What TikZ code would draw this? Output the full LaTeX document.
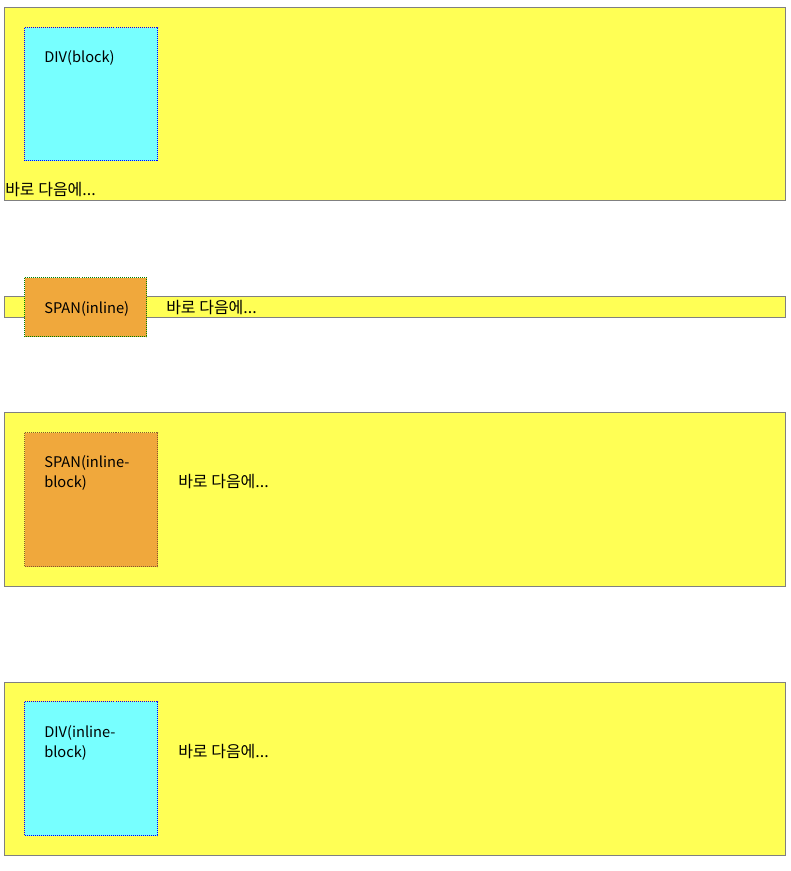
\documentclass[tikz,border=0pt]{standalone}
\usepackage{fontspec}
\setmainfont{Noto Sans CJK KR}
\definecolor{bgyellow}{HTML}{FFFF55}
\definecolor{boxcyan}{HTML}{77FFFF}
\definecolor{boxorange}{HTML}{F0A83C}
\definecolor{edgegray}{HTML}{808080}
\begin{document}
\begin{tikzpicture}[x=0.75pt,y=-0.75pt,
    outer/.style={fill=bgyellow,draw=edgegray,line width=0.75pt},
    divbox/.style={fill=boxcyan,draw=blue,line width=0.75pt,dash pattern=on 0.75pt off 0.75pt},
    spanbox/.style={fill=boxorange,draw=#1,line width=0.75pt,dash pattern=on 0.75pt off 0.75pt},
    lbl/.style={inner sep=0pt,anchor=base west,align=left,font=\fontsize{11}{15}\selectfont},
    kor/.style={lbl,font=\fontsize{12}{15}\selectfont}]
  \useasboundingbox (0,0) rectangle (791,871);
  % outer yellow containers
  \draw[outer] (4.5,7.5) rectangle (785.5,200.5);
  \draw[outer] (4.5,296.5) rectangle (785.5,317.5);
  \draw[outer] (4.5,412.5) rectangle (785.5,586.5);
  \draw[outer] (4.5,682.5) rectangle (785.5,855.5);
  % inner boxes
  \draw[divbox] (24.5,27.5) rectangle (157.5,160.5);
  \draw[spanbox=green!50!black] (24.5,277.5) rectangle (146.5,336.5);
  \draw[spanbox=brown!70!black] (24.5,432.5) rectangle (157.5,566.5);
  \draw[divbox] (24.5,701.5) rectangle (157.5,835.5);
  % labels (base = last line)
  \node[lbl] (divblock) at (44,62) {DIV(block)};
  \node[kor] (next1) at (5,195) {바로 다음에...};
  \node[lbl] (spaninline) at (44,313) {SPAN(inline)};
  \node[kor] (next2) at (166,313) {바로 다음에...};
  \node[lbl] (spanib) at (44,487.5) {SPAN(inline-\\block)};
  \node[kor] (next3) at (178,487.5) {바로 다음에...};
  \node[lbl] (divib) at (44,757) {DIV(inline-\\block)};
  \node[kor] (next4) at (178,757) {바로 다음에...};
\end{tikzpicture}
\end{document}
